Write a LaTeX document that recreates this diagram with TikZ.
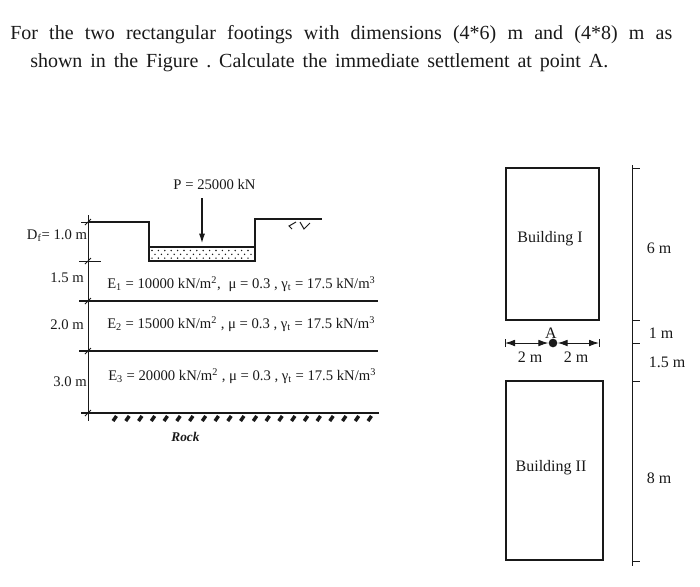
\documentclass[tikz,border=0pt]{standalone}
\usepackage{fontspec}
\setmainfont{Liberation Serif}
\usetikzlibrary{arrows.meta}
\definecolor{ink}{gray}{0.1}
\tikzset{
  lbl/.style={inner sep=0pt,text=ink,font=\fontsize{11}{13}\selectfont,anchor=center},
  lblbig/.style={lbl,font=\fontsize{12}{14}\selectfont},
  head/.style={inner sep=0pt,text=ink,font=\fontsize{15}{18}\selectfont\frenchspacing,anchor=base west},
  ln/.style={draw=ink,line width=0.8pt},
  thick ln/.style={draw=ink,line width=1.2pt},
  bld/.style={draw=ink,line width=1.8pt,fill=none,inner sep=0pt},
  axis/.style={draw=ink,line width=0.75pt},
  dimarrow/.style={draw=ink,line width=0.7pt,{Latex[length=7.5pt,width=5pt]}-{Latex[length=7.5pt,width=5pt]}},
  hatchstroke/.style={draw=ink,line width=2.6pt}
}
\newcommand{\sbx}[1]{\textsubscript{#1}}
\newcommand{\spx}[1]{\textsuperscript{#1}}
\begin{document}
\begin{tikzpicture}[x=0.75pt,y=-0.75pt]
\useasboundingbox (0,0) rectangle (700,586);
% heading
\node[head] (h1) at (10,39) {\makebox[496.5pt][s]{For the two rectangular footings with dimensions (4*6) m and (4*8) m as}};
\node[head] (h2) at (30,67) {\makebox[433.5pt][s]{shown in the Figure . Calculate the immediate settlement at point A.}};

% left section
\coordinate (vt) at (88,215);
\coordinate (vb) at (88,421);
\draw[axis] (vt) -- (vb);
\coordinate (g0) at (88,222);
\coordinate (g1) at (149,222);
\coordinate (g2) at (149,261);
\coordinate (g3) at (255,261);
\coordinate (g4) at (255,219);
\coordinate (g5) at (322,219);
\draw[thick ln] (g0) -- (g1) -- (g2) -- (g3) -- (g4) -- (g5);
\draw[axis] (79,261) -- (101,261);
\draw[axis] (81,222) -- (93,222);
\foreach \yy in {222,261,301,351,413} \draw[axis] (85,\yy+3) -- (91,\yy-3);
% footing
\draw[thick ln] (149,247) -- (255,247);
\foreach \i in {0,...,15} {
  \foreach \j in {0,1,2} {
    \fill[ink] ({152+\i*6.4+mod(\j,2)*3},{250.5+\j*3.8}) circle (0.8);
  }
}
% load
\coordinate (p1) at (202,198);
\coordinate (p2) at (202,243);
\draw[ln,-{Latex[length=7pt,width=4.5pt]}] (p1) -- (p2);
\node[lbl] (pl) at (214.5,184) {P = 25000 kN};
% water symbol
\draw[axis] (296,222) -- (289,226) -- (292,229) (300,222) -- (304,229) -- (310,223);
% layers
\coordinate (l1a) at (79,301); \coordinate (l1b) at (378,301);
\coordinate (l2a) at (79,351); \coordinate (l2b) at (378,351);
\coordinate (l3a) at (81,413); \coordinate (l3b) at (379,413);
\draw[thick ln] (l1a) -- (l1b);
\draw[thick ln] (l2a) -- (l2b);
\draw[thick ln] (l3a) -- (l3b);
\foreach \i in {0,...,20} \draw[hatchstroke] ({113+\i*12.75},421) -- ({116.5+\i*12.75},416);
\node[lbl,font=\fontsize{10}{12}\selectfont\bfseries\itshape] (rock) at (185.5,437) {Rock};
% left labels
\node[lbl] (df) at (57,236) {D\sbx{f}= 1.0 m};
\node[lbl] (d1) at (67,278) {1.5 m};
\node[lbl] (d2) at (67,325) {2.0 m};
\node[lbl] (d3) at (70,382) {3.0 m};
\node[lbl,anchor=west] (e1) at (107,284) {E\sbx{1} = 10000 kN/m\spx{2},\; μ = 0.3 , γ\sbx{t} = 17.5 kN/m\spx{3}};
\node[lbl,anchor=west] (e2) at (107,324) {E\sbx{2} = 15000 kN/m\spx{2} , μ = 0.3 , γ\sbx{t} = 17.5 kN/m\spx{3}};
\node[lbl,anchor=west] (e3) at (108,376) {E\sbx{3} = 20000 kN/m\spx{2} , μ = 0.3 , γ\sbx{t} = 17.5 kN/m\spx{3}};

% buildings
\draw[bld] (506,168) rectangle (599,320);
\draw[bld] (506,381) rectangle (603,560);
\node[lblbig] (b1) at (550,239) {Building I};
\node[lblbig] (b2) at (551,468) {Building II};
% point A
\node[circle,fill=ink,minimum size=6.5pt,inner sep=0pt] (A) at (553,343) {};
\node[lblbig] (Al) at (551,333) {A};
\coordinate (aL) at (505,343);
\coordinate (aR) at (599,343);
\draw[dimarrow] (aL) -- (A);
\draw[dimarrow] (A) -- (aR);
\draw[axis] (505,339) -- (505,347);
\draw[axis] (599,339) -- (599,347);
\node[lblbig] (m1) at (530,357) {2 m};
\node[lblbig] (m2) at (576,357) {2 m};
% right dimension
\coordinate (ax1) at (632,165);
\coordinate (ax2) at (632,566);
\draw[axis] (ax1) -- (ax2);
\foreach \yy in {168,320,343,381,561} \draw[axis] (632,\yy) -- (640,\yy);
\node[lblbig] (s6) at (659,248) {6 m};
\node[lblbig] (s1) at (661,333) {1 m};
\node[lblbig] (s15) at (667,362) {1.5 m};
\node[lblbig] (s8) at (659,478) {8 m};
\end{tikzpicture}
\end{document}
